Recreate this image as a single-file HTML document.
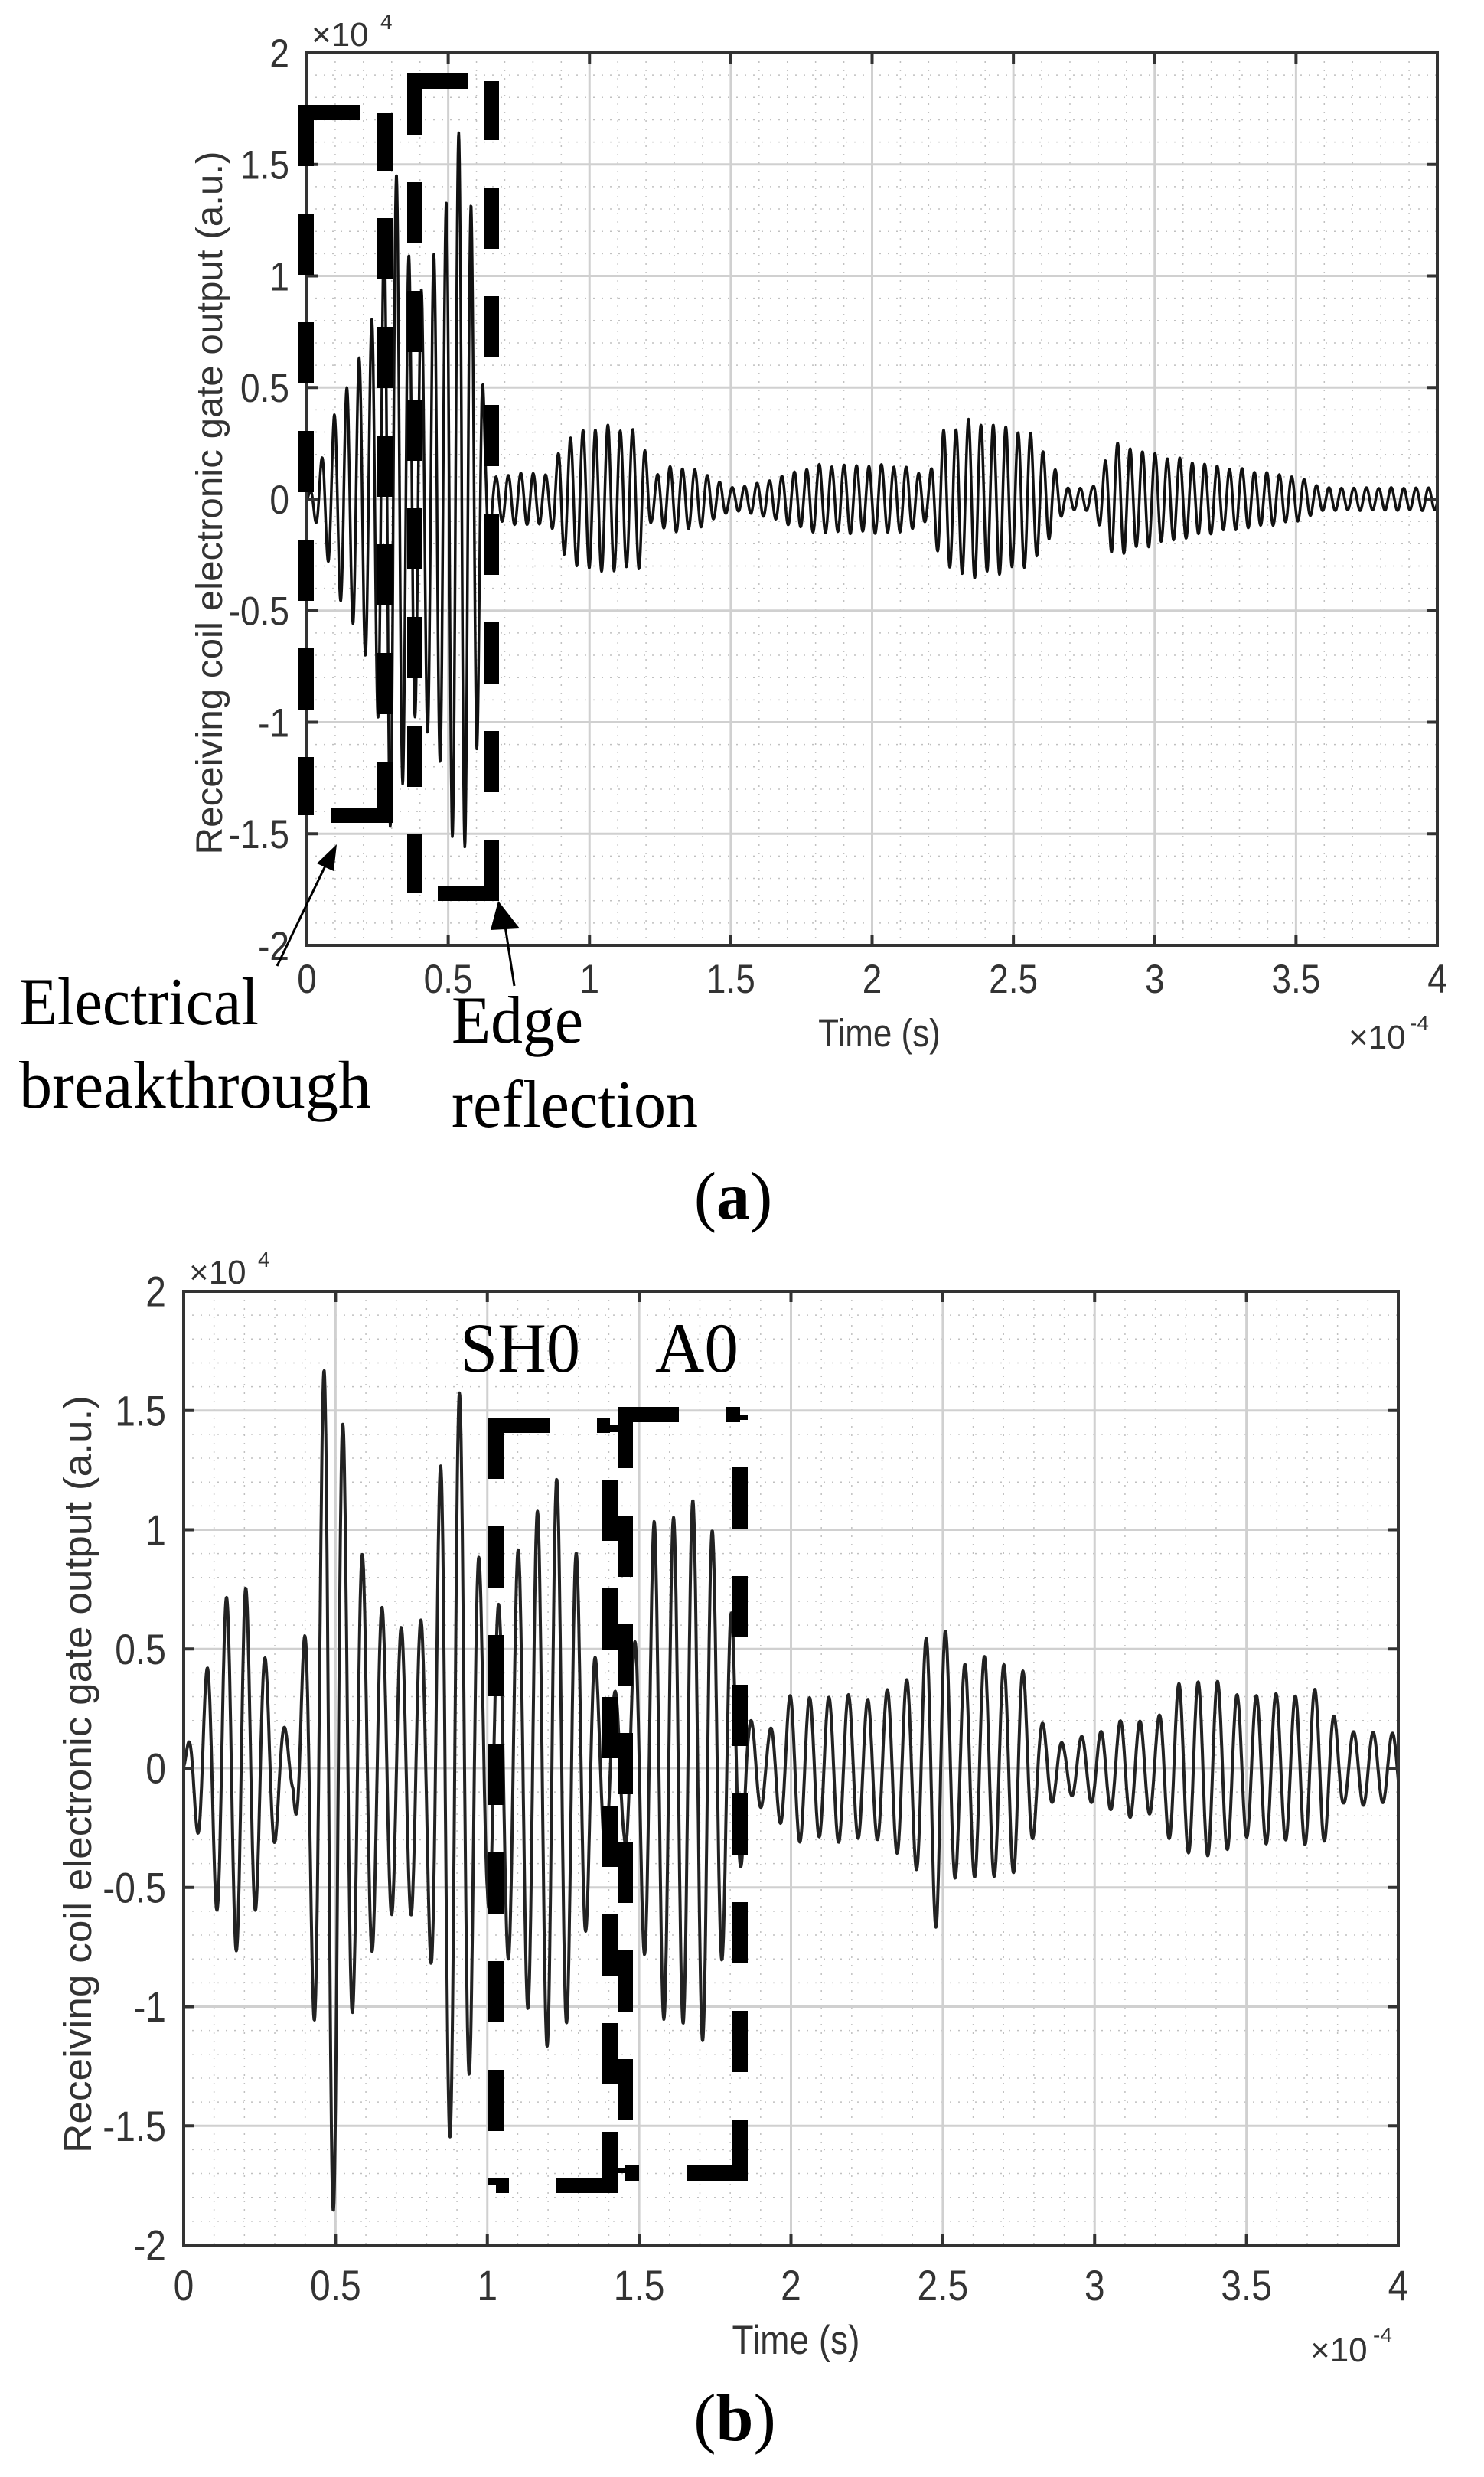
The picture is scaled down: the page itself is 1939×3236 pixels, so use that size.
<!DOCTYPE html>
<html><head><meta charset="utf-8"><style>
html,body{margin:0;padding:0;background:#fff;}
svg{display:block;}
.tk{font-family:"Liberation Sans",sans-serif;fill:#333;}
.tm{font-family:"Liberation Serif",serif;fill:#000;}
</style></head><body>
<svg id="s" width="1939" height="3236" viewBox="0 0 1939 3236" xmlns="http://www.w3.org/2000/svg">
<rect width="1939" height="3236" fill="#fff"/>
<g id="gA"></g>
<g id="gB"></g>

<!-- Plot A texts -->
<text class="tk" x="407" y="60" font-size="44">×10</text>
<text class="tk" x="497" y="38" font-size="28">4</text>
<text class="tk" transform="translate(290,657) rotate(-90) scale(1,1.1)" text-anchor="middle" font-size="44" textLength="919" lengthAdjust="spacingAndGlyphs">Receiving coil electronic gate output (a.u.)</text>
<text class="tk" transform="translate(1149,1367) scale(1,1.15)" font-size="44" text-anchor="middle">Time (s)</text>
<text class="tk" x="1762" y="1370" font-size="44">×10</text>
<text class="tk" x="1842" y="1346" font-size="28">-4</text>

<text class="tm" x="25" y="1338" font-size="88" textLength="313" lengthAdjust="spacingAndGlyphs">Electrical</text>
<text class="tm" x="25" y="1447" font-size="88" textLength="460" lengthAdjust="spacingAndGlyphs">breakthrough</text>
<text class="tm" x="590" y="1362" font-size="88" textLength="172" lengthAdjust="spacingAndGlyphs">Edge</text>
<text class="tm" x="590" y="1472" font-size="88" textLength="322" lengthAdjust="spacingAndGlyphs">reflection</text>
<text class="tm" x="958" y="1592" font-size="88" text-anchor="middle">(<tspan font-weight="bold">a</tspan>)</text>

<!-- arrows A -->
<line x1="362" y1="1262" x2="428" y2="1125" stroke="#000" stroke-width="3"/>
<polygon points="440,1103 414,1128 436,1138" fill="#000"/>
<line x1="672" y1="1288" x2="660" y2="1210" stroke="#000" stroke-width="3"/>
<polygon points="651,1177 641,1215 679,1213" fill="#000"/>

<!-- Plot B texts -->
<text class="tk" x="247" y="1677" font-size="44">×10</text>
<text class="tk" x="337" y="1655" font-size="28">4</text>
<text class="tk" transform="translate(119,2318) rotate(-90) scale(1,1.1)" text-anchor="middle" font-size="46" textLength="990" lengthAdjust="spacingAndGlyphs">Receiving coil electronic gate output (a.u.)</text>
<text class="tk" transform="translate(1040,3075) scale(1,1.15)" font-size="46" text-anchor="middle">Time (s)</text>
<text class="tk" x="1712" y="3085" font-size="44">×10</text>
<text class="tk" x="1794" y="3060" font-size="28">-4</text>
<text class="tm" x="601" y="1792" font-size="92" textLength="157" lengthAdjust="spacingAndGlyphs">SH0</text>
<text class="tm" x="856" y="1792" font-size="92" textLength="109" lengthAdjust="spacingAndGlyphs">A0</text>
<text class="tm" x="960" y="3188" font-size="88" text-anchor="middle">(<tspan font-weight="bold">b</tspan>)</text>

<g id="boxes"></g>
</svg>
<script>
(function(){
var NS="http://www.w3.org/2000/svg";
function el(p,n,a,t){var e=document.createElementNS(NS,n);for(var k in a)e.setAttribute(k,a[k]);if(t!==undefined)e.textContent=t;p.appendChild(e);return e;}
function interp(k,t){if(t<=k[0][0])return k[0][1];for(var i=1;i<k.length;i++){if(t<=k[i][0]){var a=k[i-1],b=k[i];return a[1]+(b[1]-a[1])*(t-a[0])/(b[0]-a[0]);}}return k[k.length-1][1];}
function plot(g,L,R,T,B,fs,env,P,lw,col,labX,xlabY){
  var W=R-L,H=B-T;
  function X(t){return L+t/4*W;} function Y(v){return T+(2-v)/4*H;}
  for(var i=1;i<40;i++){if(i%5==0)continue;var x=X(i*0.1);el(g,"line",{x1:x,y1:T,x2:x,y2:B,stroke:"#c0c0c0","stroke-width":1.5,"stroke-dasharray":"2 9"});}
  for(var i=1;i<40;i++){if(i%5==0)continue;var y=Y(2-i*0.1);el(g,"line",{x1:L,y1:y,x2:R,y2:y,stroke:"#c0c0c0","stroke-width":1.5,"stroke-dasharray":"2 9"});}
  for(var i=1;i<8;i++){var x=X(i*0.5);el(g,"line",{x1:x,y1:T,x2:x,y2:B,stroke:"#d0d0d0","stroke-width":3});}
  for(var i=1;i<8;i++){var y=Y(2-i*0.5);el(g,"line",{x1:L,y1:y,x2:R,y2:y,stroke:"#d0d0d0","stroke-width":3});}
  var d="",N=3000;
  for(var i=0;i<=N;i++){var t=4*i/N;var a=interp(env,t);var v=a*Math.sin(2*Math.PI*t/P+0.3)+0.04*a*Math.sin(2*Math.PI*t/(P*1.7));d+=(i?"L":"M")+X(t).toFixed(1)+" "+Y(v).toFixed(1);}
  el(g,"path",{d:d,fill:"none",stroke:col,"stroke-width":lw,"stroke-linejoin":"round"});
  el(g,"rect",{x:L,y:T,width:W,height:H,fill:"none",stroke:"#333","stroke-width":4});
  for(var i=0;i<=8;i++){var x=X(i*0.5);el(g,"line",{x1:x,y1:B,x2:x,y2:B-14,stroke:"#333","stroke-width":4});el(g,"line",{x1:x,y1:T,x2:x,y2:T+14,stroke:"#333","stroke-width":4});
    var lab=(i*0.5);lab=(lab%1==0)?String(lab):lab.toFixed(1);
    el(g,"text",{"class":"tk",transform:"translate("+x+","+xlabY+") scale(1,1.15)","font-size":fs,"text-anchor":"middle"},lab);}
  var ylabs=["2","1.5","1","0.5","0","-0.5","-1","-1.5","-2"];
  for(var i=0;i<=8;i++){var y=Y(2-i*0.5);el(g,"line",{x1:L,y1:y,x2:L+14,y2:y,stroke:"#333","stroke-width":4});el(g,"line",{x1:R,y1:y,x2:R-14,y2:y,stroke:"#333","stroke-width":4});
    el(g,"text",{"class":"tk",transform:"translate("+labX+","+(y+fs*0.41)+") scale(1,1.15)","font-size":fs,"text-anchor":"end"},ylabs[i]);}
}
var envA=[[0,0],[0.03,0.1],[0.08,0.3],[0.12,0.45],[0.17,0.6],[0.22,0.7],[0.26,1.1],[0.3,1.5],[0.35,1.2],[0.4,0.9],[0.45,1.1],[0.5,1.4],[0.55,1.65],[0.6,1.2],[0.63,0.3],[0.66,0.1],[0.8,0.12],[0.86,0.1],[0.9,0.25],[1.0,0.32],[1.1,0.32],[1.18,0.3],[1.22,0.1],[1.3,0.15],[1.4,0.12],[1.5,0.05],[1.6,0.07],[1.8,0.15],[2.1,0.15],[2.2,0.1],[2.25,0.3],[2.35,0.35],[2.55,0.3],[2.62,0.2],[2.68,0.05],[2.78,0.05],[2.85,0.25],[3.0,0.2],[3.2,0.15],[3.5,0.1],[3.6,0.05],[4,0.05]];
var envB=[[0,0.02],[0.05,0.3],[0.12,0.65],[0.2,0.8],[0.27,0.45],[0.32,0.2],[0.36,0.1],[0.4,0.6],[0.44,1.2],[0.48,1.95],[0.51,1.7],[0.56,1.0],[0.63,0.7],[0.72,0.6],[0.8,0.6],[0.86,1.55],[0.9,1.6],[0.94,1.25],[1.0,0.6],[1.08,0.8],[1.15,1.1],[1.22,1.2],[1.3,0.9],[1.37,0.35],[1.45,0.3],[1.55,1.0],[1.62,1.1],[1.72,1.1],[1.8,0.7],[1.86,0.2],[1.92,0.15],[2.0,0.3],[2.3,0.3],[2.4,0.4],[2.48,0.65],[2.55,0.45],[2.75,0.45],[2.82,0.2],[2.9,0.1],[3.1,0.2],[3.2,0.2],[3.28,0.35],[3.35,0.38],[3.5,0.3],[3.75,0.32],[3.82,0.15],[4,0.15]];
plot(document.getElementById("gA"),401,1878,69,1235,46,envA,0.044,3.5,"#111",378,1297);
plot(document.getElementById("gB"),240,1827,1687,2933,48,envB,0.064,4,"#222",217,3005);
var bx=document.getElementById("boxes");
function dline(x1,y1,x2,y2,w){el(bx,"line",{x1:x1,y1:y1,x2:x2,y2:y2,stroke:"#000","stroke-width":w,"stroke-dasharray":"80 62"});}
function box(l,r,t,b,w){
  dline(l,t-w/2,l,b,w);
  dline(l-w/2,t,r,t,w);
  dline(r,b+w/2,r,t,w);
  dline(r+w/2,b,l,b,w);
}
box(400,503,147,1065,20);
box(542,642,106,1167,20);
box(648,797,1862,2855,20);
box(817,967,1848,2839,20);
})();
</script>
</body></html>
